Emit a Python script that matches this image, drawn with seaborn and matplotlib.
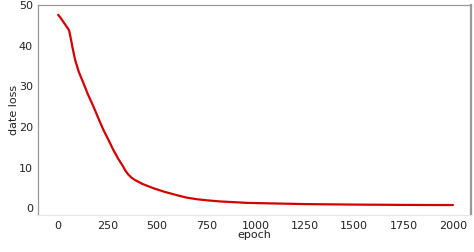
import matplotlib
matplotlib.use("Agg")
import matplotlib.pyplot as plt
import seaborn as sns
import pandas as pd

epochs = [0, 10, 20, 30, 40, 50, 56, 64, 73, 86, 105, 128, 150, 179, 205, 229, 255, 280, 305,
          325, 340, 355, 372, 390, 430, 483, 540, 601, 650, 702, 760, 820, 900, 955, 1050, 1150,
          1250, 1350, 1450, 1550, 1650, 1750, 1850, 2000]
loss = [47.6, 47.0, 46.3, 45.6, 44.9, 44.2, 43.7, 41.8, 39.5, 36.5, 33.5, 30.8, 28.1, 25.0,
        22.0, 19.3, 16.8, 14.3, 12.1, 10.6, 9.3, 8.3, 7.5, 6.9, 5.9, 4.9, 4.0, 3.2, 2.6, 2.2, 1.9,
        1.65, 1.45, 1.3, 1.2, 1.1, 1.0, 0.95, 0.9, 0.86, 0.83, 0.8, 0.78, 0.76]

df = pd.DataFrame({"epoch": epochs, "date loss": loss})

sns.set_style("white")
plt.rcParams["font.family"] = ["DejaVu Sans"]

fig, ax = plt.subplots(figsize=(4.74, 2.52), dpi=100)
fig.subplots_adjust(left=0.081, right=0.993, top=0.98, bottom=0.145)
sns.lineplot(data=df, x="epoch", y="date loss", color="#d40000", linewidth=1.6, ax=ax)

ax.set_xlim(-100, 2090)
ax.set_ylim(-1.8, 50)
ax.set_xticks([0, 250, 500, 750, 1000, 1250, 1500, 1750, 2000])
ax.set_yticks([0, 10, 20, 30, 40, 50])
ax.tick_params(axis="both", labelsize=8, length=2.5, width=0.6, colors="#999999",
               labelcolor="#222222", pad=1.5)
ax.set_xlabel("epoch", fontsize=8, labelpad=-1, color="#222222")
ax.set_ylabel("date loss", fontsize=8, labelpad=0, color="#222222")
for s in ["left", "top"]:
    ax.spines[s].set_color("#999999")
    ax.spines[s].set_linewidth(0.9)
ax.spines["right"].set_color("#999999")
ax.spines["right"].set_linewidth(1.6)
ax.spines["bottom"].set_color("#e6e6e6")
ax.spines["bottom"].set_linewidth(0.8)

fig.savefig("out.png", dpi=100)
